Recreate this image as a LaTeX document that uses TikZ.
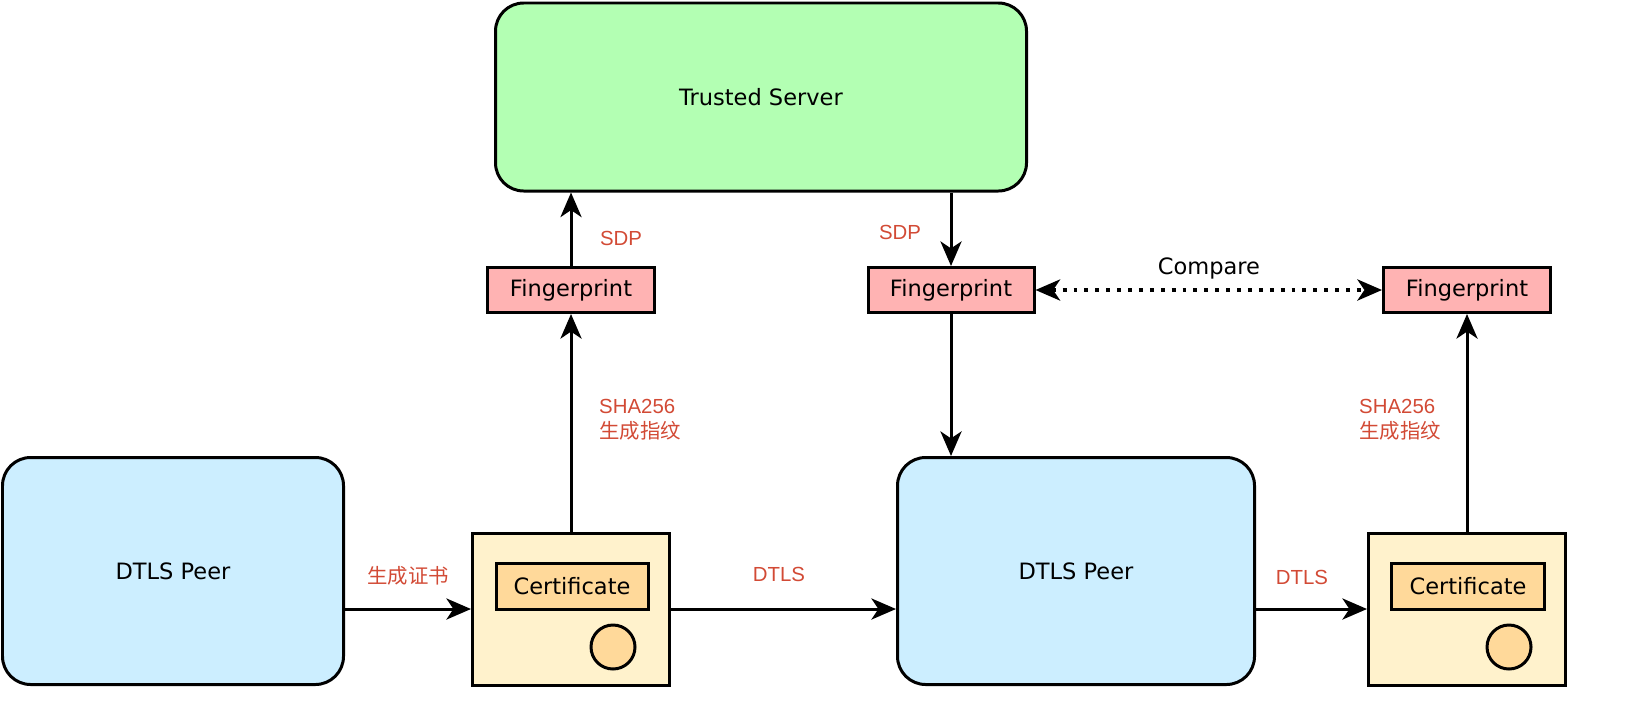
\documentclass[tikz,border=0pt]{standalone}
\usepackage{fontspec}
\setmainfont{Liberation Sans}
\newfontfamily\dv{DejaVu Sans}
\newfontfamily\cjk{Noto Sans CJK SC}
\usetikzlibrary{arrows.meta}
\definecolor{srv}{HTML}{B3FFB3}
\definecolor{peer}{HTML}{CCEEFF}
\definecolor{cert}{HTML}{FFF2CC}
\definecolor{certin}{HTML}{FFD99A}
\definecolor{fp}{HTML}{FFB3B3}
\definecolor{lbl}{HTML}{D24A35}
\begin{document}
\begin{tikzpicture}[x=0.01cm,y=-0.01cm,
    line width=0.85pt,
    box/.style={draw,line width=0.85pt,font=\dv\fontsize{6.4}{7}\selectfont},
    rbox/.style={box,rounded corners=8pt},
    lab/.style={text=lbl,font=\fontsize{5.8}{7}\selectfont,align=left},
    arr/.style={-{Stealth[length=7pt,width=6pt,inset=2pt]},line width=0.85pt}]
\useasboundingbox (0,0) rectangle (1652,724);
% boxes
\node[rbox,fill=srv,minimum width=531*0.01cm,minimum height=188*0.01cm] (srv) at (761,97) {Trusted Server};
\node[rbox,fill=peer,minimum width=341*0.01cm,minimum height=227*0.01cm] (p1) at (173,571) {DTLS Peer};
\node[rbox,fill=peer,minimum width=357*0.01cm,minimum height=227*0.01cm] (p2) at (1076,571) {DTLS Peer};
\node[box,fill=cert,minimum width=197*0.01cm,minimum height=152*0.01cm] (c1) at (571,609) {};
\node[box,fill=cert,minimum width=197*0.01cm,minimum height=152*0.01cm] (c2) at (1467,609) {};
\node[box,fill=certin,minimum width=152*0.01cm,minimum height=46*0.01cm,inner sep=0pt] (ci1) at (572,586) {Certificate};
\node[box,fill=certin,minimum width=153*0.01cm,minimum height=46*0.01cm,inner sep=0pt] (ci2) at (1468,586) {Certificate};
\node[draw,circle,fill=certin,minimum size=44*0.01cm,inner sep=0pt] (k1) at (613,647) {};
\node[draw,circle,fill=certin,minimum size=44*0.01cm,inner sep=0pt] (k2) at (1509,647) {};
\node[box,fill=fp,minimum width=167*0.01cm,minimum height=45*0.01cm,inner sep=0pt] (f1) at (571,290) {Fingerprint};
\node[box,fill=fp,minimum width=166*0.01cm,minimum height=45*0.01cm,inner sep=0pt] (f2) at (951,290) {Fingerprint};
\node[box,fill=fp,minimum width=167*0.01cm,minimum height=45*0.01cm,inner sep=0pt] (f3) at (1467,290) {Fingerprint};
% arrows
\draw[arr] (p1.east|-0,609) -- (c1.west|-0,609);
\draw[arr] (c1.east|-0,609) -- (p2.west|-0,609);
\draw[arr] (p2.east|-0,609) -- (c2.west|-0,609);
\draw[arr] (c1.north) -- (f1.south);
\draw[arr] (f1.north) -- (f1.north|-srv.south);
\draw[arr] (f2.north|-srv.south) -- (f2.north);
\draw[arr] (f2.south) -- (f2.south|-p2.north);
\draw[arr] (c2.north) -- (f3.south);
\draw[{Stealth[length=7pt,width=6pt,inset=2pt]}-{Stealth[length=7pt,width=6pt,inset=2pt]},dotted,line width=1.1pt] (f2.east) -- (f3.west);
% labels
\node[lab] (l1) at (408,576) {\cjk 生成证书};
\node[lab] (l2) at (779,574) {DTLS};
\node[lab] (l3) at (1302,577) {DTLS};
\node[lab,anchor=west] (l4) at (586,420) {SHA256\\\cjk 生成指纹};
\node[lab,anchor=west] (l5) at (1346,420) {SHA256\\\cjk 生成指纹};
\node[lab] (l6) at (621,238) {SDP};
\node[lab] (l7) at (900,232) {SDP};
\node[font=\dv\fontsize{6.4}{7}\selectfont] (l8) at (1209,268) {Compare};
\end{tikzpicture}
\end{document}
